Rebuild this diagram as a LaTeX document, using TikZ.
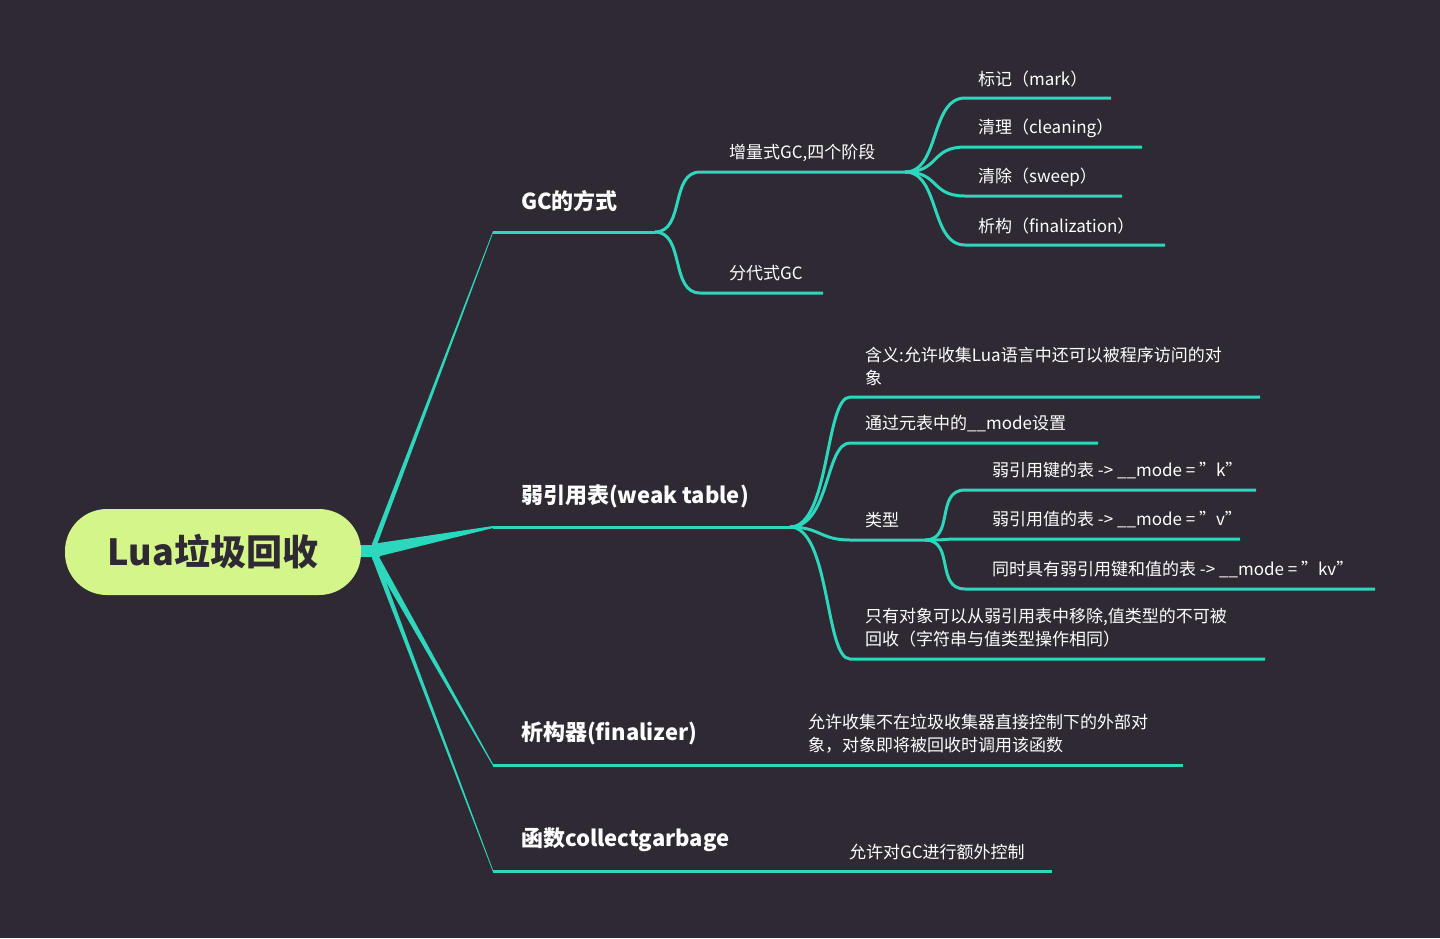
\documentclass[tikz,border=0pt]{standalone}
\usepackage{fontspec}
\setmainfont{Noto Sans CJK SC}
\usepackage{xcolor}
\definecolor{bgdark}{RGB}{46,41,51}
\definecolor{mapteal}{RGB}{45,215,190}
\definecolor{lime}{RGB}{212,245,138}
\usetikzlibrary{calc}
\newcommand{\dq}{\symbol{34}}

\tikzset{
  branch/.style = {draw = mapteal, line width = 1.5pt},
  curve/.style = {draw = mapteal, line width = 1.5pt},
  maintext/.style = {anchor = west, text = white, font = \fontsize{11}{13}\selectfont\bfseries},
  leaf/.style = {anchor = west, text = white, font = \fontsize{8.5}{11.5}\selectfont, align = left},
}

\begin{document}
\begin{tikzpicture}[x = 0.5pt, y = -0.5pt]
		\fill[bgdark] (0,0) rectangle (1440,938);
		% root
		\coordinate (hub) at (372,551);
		\fill[mapteal] (340,545) rectangle (380,557);
		\node[fill = lime, rounded corners = 21pt, minimum width = 148pt, minimum height = 43pt,
		      font = \fontsize{18}{20}\selectfont\bfseries, text = bgdark] (root) at (213,552) {Lua垃圾回收};
		% main branches
		\foreach \y/\n in {232/gc, 527/weak, 765/fin, 871/fun}{
			\coordinate (\n) at (493,\y);
			\fill[mapteal] ($(hub)+(0,-7)$) -- ($(\n)+(0,-1)$) -- ($(\n)+(0,1)$) -- ($(hub)+(0,7)$) -- cycle;
			}
		\coordinate (gcend) at (655,232);
		\coordinate (weakend) at (790,527);
		\coordinate (finend) at (1183,765);
		\coordinate (funend) at (1052,871);
		\draw[branch] (gc) -- (gcend);
		\draw[branch] (weak) -- (weakend);
		\draw[branch] (fin) -- (finend);
		\draw[branch] (fun) -- (funend);
		\node[maintext] (gct) at (514,201) {GC的方式};
		\node[maintext] (weakt) at (514,496) {弱引用表(weak table)};
		\node[maintext] (fint) at (514,733) {析构器(finalizer)};
		\node[maintext] (funt) at (514,840) {函数collectgarbage};
		% GC modes
		\coordinate (inc) at (700,172);
		\coordinate (incend) at (905,172);
		\coordinate (gen) at (700,293);
		\coordinate (genend) at (823,293);
		\draw[curve] (gcend) .. controls +(30,0) and +(-30,0) .. (inc) -- (incend);
		\draw[curve] (gcend) .. controls +(30,0) and +(-30,0) .. (gen) -- (genend);
		\node[leaf] (inct) at (722,153) {增量式GC,四个阶段};
		\node[leaf] (gent) at (722,273) {分代式GC};
		\foreach \y/\e/\n/\txt in {98/1111/mk/标记（mark）, 147/1142/cl/清理（cleaning）,
		                        196/1122/sw/清除（sweep）, 245/1165/fz/析构（finalization）}{
			\coordinate (\n) at (965,\y);
			\coordinate (\n end) at (\e,\y);
			\draw[curve] (incend) .. controls +(35,0) and +(-35,0) .. (\n) -- (\n end);
			\node[leaf] (\n t) at (971,\y-19) {\txt};
			}
		% weak table
		\coordinate (kind) at (850,540);
		\coordinate (kindend) at (925,540);
		\foreach \y/\e/\n in {397/1260/mean, 443/1098/set, 659/1265/only}{
			\coordinate (\n) at (850,\y);
			\coordinate (\n end) at (\e,\y);
			\draw[curve] (weakend) .. controls +(40,0) and +(-25,0) .. (\n) -- (\n end);
			}
		\draw[curve] (weakend) .. controls +(30,0) and +(-30,0) .. (kind) -- (kindend);
		\node[leaf] (meant) at (858,366) {含义:允许收集Lua语言中还可以被程序访问的对\\象};
		\node[leaf] (sett) at (858,424) {通过元表中的\_\_mode设置};
		\node[leaf] (kindt) at (858,520) {类型};
		\node[leaf] (onlyt) at (858,628) {只有对象可以从弱引用表中移除,值类型的不可被\\回收（字符串与值类型操作相同）};
		\foreach \y/\e/\n/\txt in {490/1256/wk/弱引用键的表 -> \_\_mode = \dq k\dq, 539/1240/wv/弱引用值的表 -> \_\_mode = \dq v\dq,
		                        589/1375/wkv/同时具有弱引用键和值的表 -> \_\_mode = \dq kv\dq}{
			\coordinate (\n) at (965,\y);
			\coordinate (\n end) at (\e,\y);
			\draw[curve] (kindend) .. controls +(30,0) and +(-30,0) .. (\n) -- (\n end);
			\node[leaf] (\n t) at (985,\y-19) {\txt};
			}
		% finalizer and collectgarbage
		\node[leaf] (fint2) at (801,734) {允许收集不在垃圾收集器直接控制下的外部对\\象，对象即将被回收时调用该函数};
		\node[leaf] (funt2) at (842,852) {允许对GC进行额外控制};
	\end{tikzpicture}
\end{document}
